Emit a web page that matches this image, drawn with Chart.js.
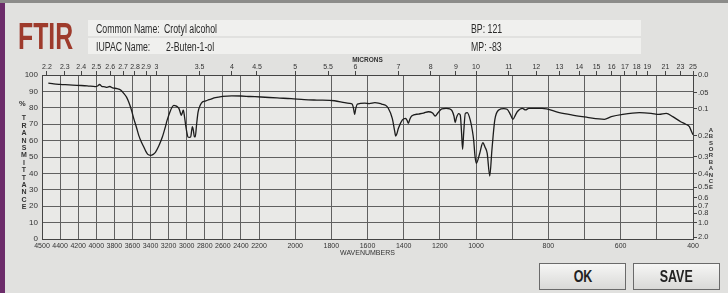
<!DOCTYPE html>
<html><head><meta charset="utf-8">
<script src="https://cdn.jsdelivr.net/npm/chart.js@4.4.1/dist/chart.umd.min.js"></script>
<style>
html,body{margin:0;padding:0;}
body{width:728px;height:293px;overflow:hidden;background:#e1e1df;position:relative;font-family:'Liberation Sans',Arial,sans-serif;color:#2a2a2a;}
#c{position:absolute;left:0;top:0;z-index:1;}
.ov{position:absolute;white-space:nowrap;z-index:2;}
.row{position:absolute;left:88px;width:553px;background:#f0f0ee;z-index:0;}
.hd{position:absolute;font-size:12.5px;line-height:16px;white-space:nowrap;z-index:2;transform:scaleX(0.7);transform-origin:0 50%;}
.stack{position:absolute;word-break:break-all;white-space:normal;text-align:center;font-weight:bold;z-index:2;color:#333;}
.btn{position:absolute;top:263px;height:25px;border:1px solid #6a6a6a;background:linear-gradient(#f6f6f5,#d9d9d7);font-weight:bold;font-size:16px;line-height:25px;text-align:center;z-index:2;color:#222;}
.btn span{display:inline-block;transform:scaleX(0.78);}
</style></head>
<body>
<div class="ov" style="left:0;top:0;width:5px;height:293px;background:#6c2c6a;"></div>
<div class="ov" style="left:0;top:0;width:728px;height:3px;background:#8c8c8a;"></div>
<div class="ov" style="left:18px;top:18.5px;font-size:36px;line-height:36px;font-weight:bold;color:#9e3b2c;transform:scaleX(0.69);transform-origin:0 0;">FTIR</div>
<div class="row" style="top:20px;height:16px;"></div>
<div class="row" style="top:38px;height:16px;"></div>
<div class="hd" style="left:96px;top:20.5px;">Common Name:</div>
<div class="hd" style="left:164px;top:20.5px;">Crotyl alcohol</div>
<div class="hd" style="left:96px;top:38.5px;">IUPAC Name:</div>
<div class="hd" style="left:166px;top:38.5px;">2-Buten-1-ol</div>
<div class="hd" style="left:471px;top:20.5px;">BP: 121</div>
<div class="hd" style="left:471px;top:38.5px;">MP: -83</div>
<div class="ov" style="left:19px;top:99px;font-size:7.5px;font-weight:bold;color:#333;">%</div>
<div class="stack" style="left:21px;top:114.3px;width:6px;font-size:7px;line-height:7.4px;">TRANSMITTANCE</div>
<div class="stack" style="left:708px;top:126.8px;width:6px;font-size:6px;line-height:6.4px;">ABSORBANCE</div>
<div class="btn" style="left:539px;width:85px;"><span>OK</span></div>
<div class="btn" style="left:633px;width:85px;"><span>SAVE</span></div>
<canvas id="c" width="728" height="293"></canvas>
<script>
// Spectrum (wavenumber cm-1, %T)
const wavenumbers = [4530,4470,4400,4300,4215,4100,4011,3985,3963,3940,3905,3881,3850,3820,3770,3730,3696,3665,3641,3610,3585,3555,3530,3500,3474,3450,3430,3400,3370,3344,3310,3270,3240,3215,3185,3160,3141,3120,3100,3085,3070,3059,3045,3037,3025,3011,2998,2986,2970,2956,2945,2937,2925,2915,2905,2890,2874,2850,2826,2800,2770,2730,2696,2650,2603,2500,2400,2300,2189,2100,2022,1950,1880,1782,1726,1700,1685,1678,1671,1665,1656,1615,1590,1559,1540,1522,1500,1485,1463,1450,1444,1438,1429,1407,1389,1380,1374,1366,1356,1318,1290,1263,1240,1226,1210,1189,1165,1145,1133,1122,1115,1108,1096,1087,1080,1074,1068,1059,1048,1032,1020,1013,1005,999,990,981,975,969,962,956,948,937,923,914,905,898,890,886,872,863,854,817,770,733,692,660,645,626,594,548,516,494,474,456,434,420,410,405,400];
const transmittance = [95.1,94.6,94.3,94.0,93.7,93.4,92.9,93.3,94.2,93.1,92.8,92.5,93.0,92.2,91.7,90.9,88.8,86.5,83.5,78.5,73.4,68.0,63.2,59.0,56.1,53.3,51.6,51.0,51.6,53.0,56.5,62.0,67.5,72.6,77.5,80.5,81.5,81.2,80.5,79.5,77.0,75.4,77.5,78.5,75.0,69.3,65.0,62.2,62.0,62.2,66.0,68.5,66.0,62.5,62.3,70.0,77.4,81.5,83.5,84.0,84.6,85.3,86.0,86.5,87.0,87.3,87.2,86.9,86.6,86.0,85.6,85.0,84.7,84.3,83.1,82.7,82.3,80.0,76.0,79.5,82.3,82.8,82.6,83.1,82.9,82.3,81.5,79.7,73.6,66.0,62.8,64.0,67.5,72.6,73.6,72.0,70.5,73.0,75.0,76.2,76.8,77.6,76.8,75.0,77.0,79.3,79.6,79.3,78.3,75.0,71.0,74.0,76.5,75.6,65.0,54.7,65.0,76.6,77.0,72.6,66.0,60.4,50.0,46.1,52.0,58.7,56.0,52.2,38.4,54.3,72.6,78.7,79.5,79.1,76.0,73.0,76.0,77.6,79.7,78.7,79.7,79.7,77.1,75.6,74.2,73.2,73.0,74.6,76.0,77.0,76.6,76.0,76.6,74.6,71.5,70.0,68.5,66.0,63.5];

// Axis ticks
const bottomTickWavenumbers = [4600,4400,4200,4000,3800,3600,3400,3200,3000,2800,2600,2400,2200,2000,1800,1600,1400,1200,1000,900,800,700,600,500,400];
const bottomTickLabels = ['4500','4400','4200','4000','3800','3600','3400','3200','3000','2800','2600','2400','2200','2000','1800','1600','1400','1200','1000','','800','','600','','400'];
const micronTicks = [2.2,2.3,2.4,2.5,2.6,2.7,2.8,2.9,3,3.5,4,4.5,5,5.5,6,7,8,9,10,11,12,13,14,15,16,17,18,19,21,23,25];
const micronLabels = ['2.2','2.3','2.4','2.5','2.6','2.7','2.8','2.9','3','3.5','4','4.5','5','5.5','6','7','8','9','10','11','12','13','14','15','16','17','18','19','21','23','25'];
const absorbanceTicks = [0,0.05,0.1,0.2,0.3,0.4,0.5,0.6,0.7,0.8,1.0,2.0];
const absorbanceLabels = ['0.0','.05','0.1','0.2','0.3','0.4','0.5','0.6','0.7','0.8','1.0','2.0'];

// Piecewise wavenumber axis (three scale segments, as on the chart paper)
function pos(w){
  if (w >= 2200) return (4600 - w) * 0.09;
  if (w >= 1000) return 216 + (2200 - w) * 0.18;
  return 432 + (1000 - w) * 0.36;
}

const FONT = "'Liberation Sans',Arial,sans-serif";
const areaBg = { id:'areaBg', beforeDraw(chart){
  const {ctx, chartArea:{left,top,width,height}} = chart;
  ctx.save(); ctx.fillStyle = '#e9e9e7'; ctx.fillRect(left, top, width, height); ctx.restore();
}};

new Chart(document.getElementById('c'), {
  type: 'line',
  data: { datasets: [{
    data: wavenumbers.map((w,i)=>({x: pos(w), y: transmittance[i]})),
    borderColor: '#1c1c1c', borderWidth: 1.3, pointRadius: 0, fill: false,
    cubicInterpolationMode: 'monotone', xAxisID: 'x', yAxisID: 'y'
  }]},
  options: {
    responsive: false, animation: false, devicePixelRatio: 1,
    layout: { padding: 0 },
    plugins: { legend: { display: false }, tooltip: { enabled: false } },
    scales: {
      x: { type: 'linear', position: 'bottom', min: 0, max: 648,
        afterBuildTicks: s => { s.ticks = bottomTickWavenumbers.map(w => ({ value: pos(w) })); },
        afterFit: s => { s.height = 54; },
        ticks: { autoSkip: false, maxRotation: 0, minRotation: 0, padding: 3, color: '#333',
          font: { family: FONT, size: 7 }, callback: (v, i) => bottomTickLabels[i] },
        grid: { color: '#606060', lineWidth: 1, drawTicks: false },
        border: { color: '#444', width: 1 },
        title: { display: true, text: 'WAVENUMBERS', color: '#333', font: { family: FONT, size: 7 }, padding: { top: 0, bottom: 35.5 } }
      },
      xTop: { type: 'linear', position: 'top', min: 0, max: 648,
        afterBuildTicks: s => { s.ticks = micronTicks.map(m => ({ value: pos(10000 / m) })); },
        afterFit: s => { s.height = 75; },
        ticks: { autoSkip: false, maxRotation: 0, minRotation: 0, padding: 0, color: '#333',
          font: { family: FONT, size: 7 }, callback: (v, i) => micronLabels[i] },
        grid: { drawOnChartArea: false, drawTicks: true, tickLength: 4, color: '#444' },
        border: { color: '#444', width: 1 },
        title: { display: true, text: 'MICRONS', color: '#333', font: { family: FONT, size: 6.5, weight: 'bold' }, padding: { top: 56.5, bottom: 0 } }
      },
      y: { position: 'left', min: 0, max: 100,
        afterFit: s => { s.width = 42; },
        ticks: { stepSize: 10, padding: 4, color: '#333', font: { family: FONT, size: 8 } },
        grid: { color: '#606060', lineWidth: 1, drawTicks: false },
        border: { color: '#444', width: 1 }
      },
      yR: { position: 'right', min: 0, max: 100,
        afterBuildTicks: s => { s.ticks = absorbanceTicks.map(a => ({ value: 100 * Math.pow(10, -a) })); },
        afterFit: s => { s.width = 35; },
        ticks: { autoSkip: false, padding: 1, color: '#333', font: { family: FONT, size: 7.5 },
          callback: (v, i) => absorbanceLabels[i] },
        grid: { drawOnChartArea: false, drawTicks: true, tickLength: 4, color: '#444' },
        border: { color: '#444', width: 1 }
      }
    }
  },
  plugins: [areaBg]
});
</script>
</body></html>
